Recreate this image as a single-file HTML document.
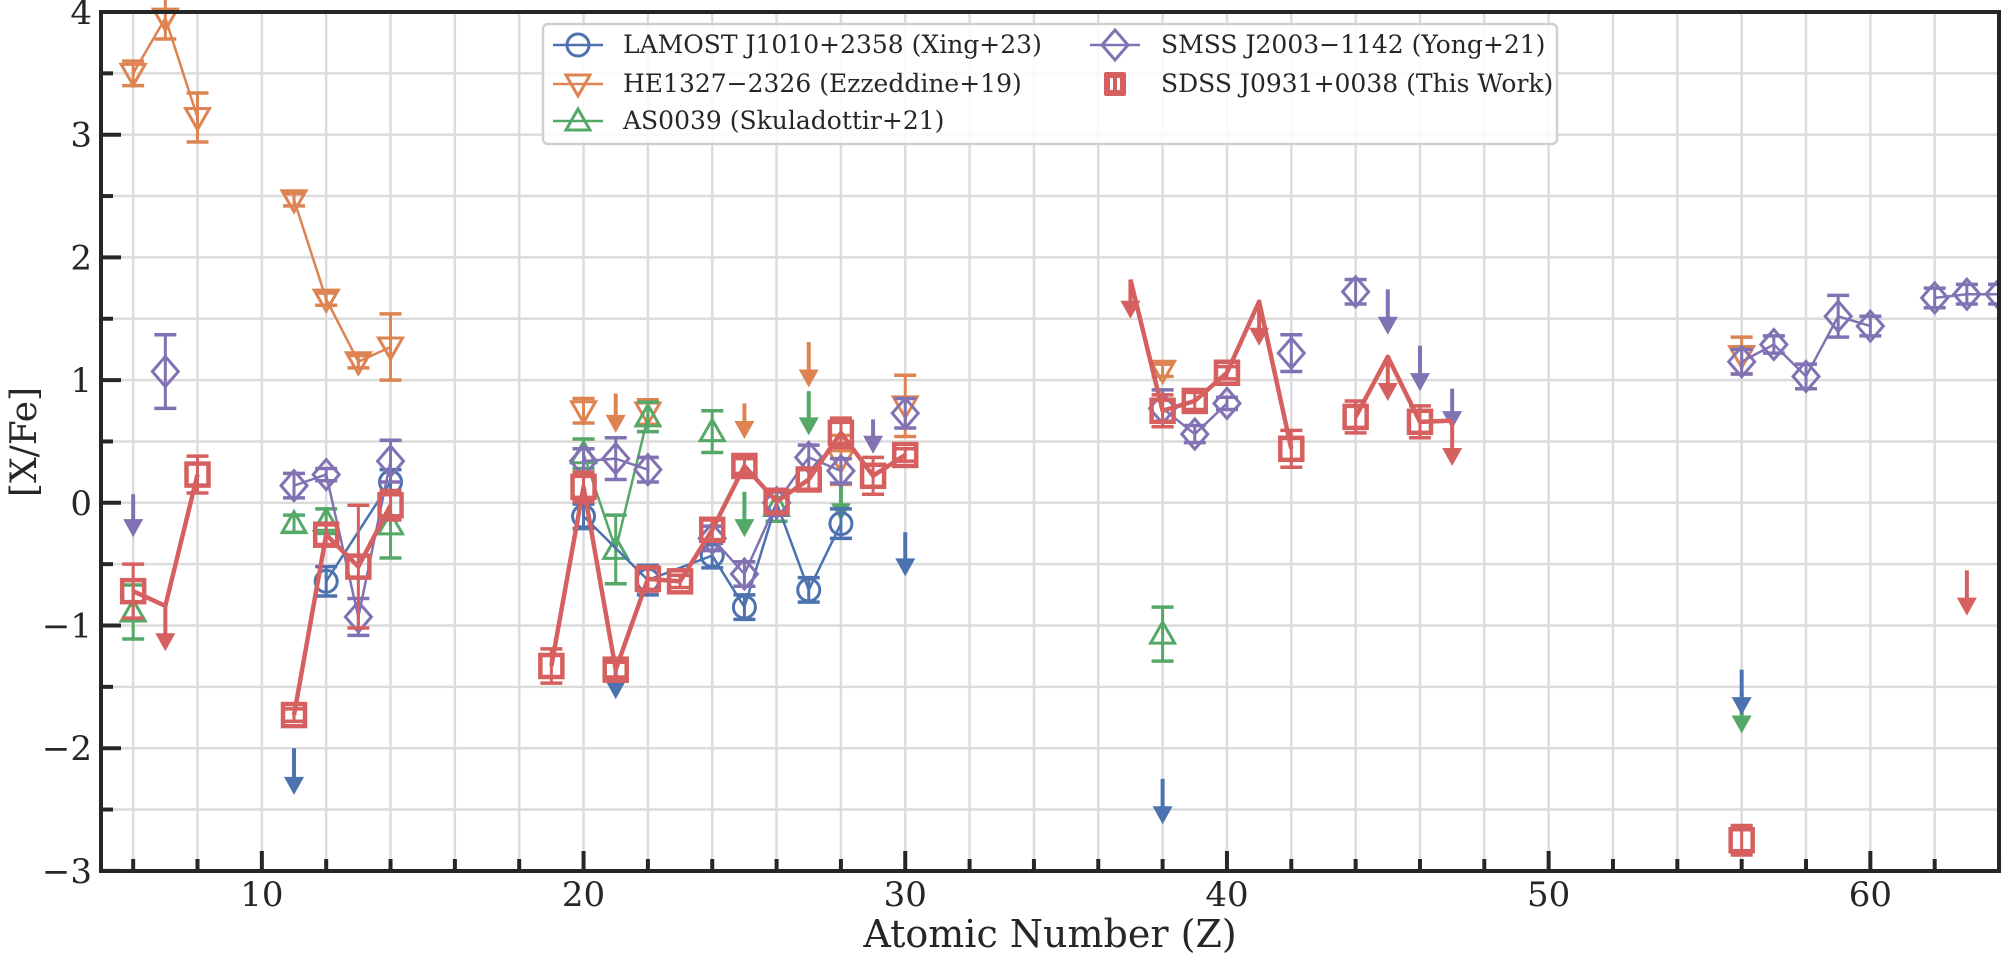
<!DOCTYPE html>
<html><head><meta charset="utf-8"><style>
html,body{margin:0;padding:0;background:#fff;}
svg{display:block;font-family:"DejaVu Serif","Liberation Serif",serif;}
</style></head><body>
<svg id="s" width="2002" height="954" viewBox="0 0 2002 954" xmlns="http://www.w3.org/2000/svg">
<rect width="2002" height="954" fill="#fff"/>
<g id="grid"></g>
<g id="data"></g>
<g id="axes"></g>
<g id="legend">
<rect x="543" y="24" width="1014" height="120" rx="5" fill="#fff" fill-opacity="0.85" stroke="#d0d0d0" stroke-width="2.5"/>
<g font-size="25" fill="#262626">
<text x="623" y="53">LAMOST J1010+2358 (Xing+23)</text>
<text x="623" y="92">HE1327−2326 (Ezzeddine+19)</text>
<text x="623" y="129">AS0039 (Skuladottir+21)</text>
<text x="1161" y="53">SMSS J2003−1142 (Yong+21)</text>
<text x="1161" y="92">SDSS J0931+0038 (This Work)</text>
</g>
</g>
<g fill="#262626">
<text x="1050" y="947" font-size="38" text-anchor="middle">Atomic Number (Z)</text>
<text transform="translate(36,442) rotate(-90)" font-size="36" text-anchor="middle">[X/Fe]</text>
</g>
<g id="ticklabels" fill="#262626" font-size="34"></g>
</svg>
<script>
const NS="http://www.w3.org/2000/svg";
const X=z=>101+(z-5)*32.17, Y=v=>12+(4-v)*122.7;
function el(p,t,a){const e=document.createElementNS(NS,t);for(const k in a)e.setAttribute(k,a[k]);p.appendChild(e);return e;}
const G=document.getElementById('grid'),D=document.getElementById('data'),A=document.getElementById('axes'),TL=document.getElementById('ticklabels'),LG=document.getElementById('legend');
for(let z=6;z<=64;z+=2)el(G,'line',{x1:X(z),x2:X(z),y1:12,y2:871,stroke:'#dcdcdc','stroke-width':2.5});
for(let v=-2.5;v<4;v+=0.5)el(G,'line',{x1:101,x2:1999,y1:Y(v),y2:Y(v),stroke:'#dcdcdc','stroke-width':2.5});
// axes
el(A,'rect',{x:101,y:12,width:1898,height:859,fill:'none',stroke:'#262626','stroke-width':4});
for(let v=-3;v<=4;v+=0.5){const maj=Number.isInteger(v);el(A,'line',{x1:101,x2:101+(maj?20:12),y1:Y(v),y2:Y(v),stroke:'#262626','stroke-width':4});
 if(maj){const t=el(TL,'text',{x:92,y:Y(v)+12,'text-anchor':'end'});t.textContent=(v<0?'−':'')+Math.abs(v);}}
for(let z=6;z<=64;z+=2){const maj=z%10==0;el(A,'line',{x1:X(z),x2:X(z),y1:871,y2:871-(maj?20:12),stroke:'#262626','stroke-width':4});
 if(maj){const t=el(TL,'text',{x:X(z),y:906,'text-anchor':'middle'});t.textContent=z;}}
const C={b:'#4c72b0',o:'#dd8452',g:'#55a868',r:'#d65f5f',p:'#8172b3'};
function marker(p,type,x,y,c,sw){
 const a={fill:'none',stroke:c,'stroke-width':sw};
 if(type=='o')el(p,'circle',Object.assign({cx:x,cy:y,r:11},a));
 else if(type=='v')el(p,'polygon',Object.assign({points:`${x-12},${y-9} ${x+12},${y-9} ${x},${y+12}`},a));
 else if(type=='^')el(p,'polygon',Object.assign({points:`${x-12},${y+9} ${x+12},${y+9} ${x},${y-12}`},a));
 else if(type=='d')el(p,'polygon',Object.assign({points:`${x-13},${y} ${x},${y-15} ${x+13},${y} ${x},${y+15}`},a));
 else if(type=='s')el(p,'rect',Object.assign({x:x-11,y:y-11,width:22,height:22},a));
}
function series(c,type,lw,msw,pts,groups){
 const g=el(D,'g',{});
 const map={};pts.forEach(p=>map[p[0]]=p);
 groups.forEach(gr=>{const d=gr.map((z,i)=>(i?'L':'M')+X(z)+','+Y(map[z][1])).join(' ');el(g,'path',{d:d,fill:'none',stroke:c,'stroke-width':lw,'stroke-linejoin':'round'});});
 pts.forEach(p=>{const [z,v,e,lim]=p;const x=X(z),y=Y(v);
  if(lim!==undefined){const ty=Y(lim);el(g,'line',{x1:x,x2:x,y1:y,y2:ty-14,stroke:c,'stroke-width':4});
   el(g,'polygon',{points:`${x-10},${ty-18} ${x+10},${ty-18} ${x},${ty}`,fill:c});}
  else{ if(e){const y1=Y(v+e),y2=Y(v-e);el(g,'line',{x1:x,x2:x,y1:y1,y2:y2,stroke:c,'stroke-width':3});
    el(g,'line',{x1:x-11,x2:x+11,y1:y1,y2:y1,stroke:c,'stroke-width':3.5});el(g,'line',{x1:x-11,x2:x+11,y1:y2,y2:y2,stroke:c,'stroke-width':3.5});}
   marker(g,type,x,y,c,msw);}
 });
}
// orange
series(C.o,'v',2.5,3,[[6,3.5,0.1],[7,3.95,0.17],[8,3.14,0.2],[11,2.47,0.05],[12,1.66,0.05],[13,1.15,0.05],[14,1.27,0.27],
 [20,0.75,0.1],[21,0.89,0,0.57],[22,0.74,0.1],[25,0.81,0,0.52],[27,1.31,0,0.94],[28,0.35,0.2],[30,0.79,0.25],[38,1.08,0.05],[56,1.2,0.15]],[[6,7,8],[11,12,13,14]]);
// green
series(C.g,'^',2.5,3,[[6,-0.89,0.22],[11,-0.17,0.07],[12,-0.15,0.1],[14,-0.18,0.27],[20,0.4,0.12],[21,-0.38,0.28],[22,0.7,0.12],[24,0.58,0.17],
 [25,0.09,0,-0.28],[26,-0.03,0.12],[27,0.91,0,0.55],[28,0.14,0,-0.15],[38,-1.07,0.22],[56,-1.55,0,-1.88]],[[20,21,22]]);
// blue
series(C.b,'o',2.5,3,[[11,-2.0,0,-2.38],[12,-0.64,0.12],[14,0.17,0.1],[20,-0.11,0.1],[21,-1.3,0,-1.6],[22,-0.63,0.12],[24,-0.43,0.1],
 [25,-0.85,0.1],[26,0.0,0.1],[27,-0.71,0.1],[28,-0.17,0.12],[30,-0.24,0,-0.6],[38,-2.25,0,-2.62],[56,-1.36,0,-1.73]],[[12,14],[20,22],[22,24,25,26,27,28]]);
// purple
series(C.p,'d',2.5,3,[[6,0.07,0,-0.28],[7,1.07,0.3],[11,0.14,0.1],[12,0.23,0.05],[13,-0.93,0.15],[14,0.34,0.17],[20,0.34,0.1],[21,0.36,0.17],[22,0.27,0.1],
 [24,-0.29,0.1],[25,-0.58,0.1],[26,0.0,0.1],[27,0.37,0.1],[28,0.26,0.1],[29,0.68,0,0.4],[30,0.73,0.12],[38,0.77,0.15],[39,0.56,0.07],[40,0.81,0.05],
 [42,1.22,0.15],[44,1.72,0.1],[45,1.74,0,1.37],[46,1.28,0,0.91],[47,0.93,0,0.6],[56,1.15,0.1],[57,1.29,0.07],[58,1.03,0.1],[59,1.52,0.17],[60,1.44,0.08],
 [62,1.67,0.08],[63,1.7,0.08],[64,1.7,0.08]],[[11,12,13,14],[20,21,22],[24,25,26,27,28],[38,39,40],[56,57,58,59,60],[62,63,64]]);
// red
series(C.r,'s',4.5,4.5,[[6,-0.72,0.22],[7,-0.84,0,-1.21],[8,0.23,0.15],[11,-1.73,0.05],[12,-0.26,0.08],[13,-0.52,0.5],[14,-0.02,0.12],
 [19,-1.33,0.14],[20,0.13,0.12],[21,-1.36,0.06],[22,-0.62,0.1],[23,-0.64,0.05],[24,-0.22,0.08],[25,0.3,0.06],[26,0.01,0.1],[27,0.19,0.08],
 [28,0.57,0.12],[29,0.22,0.15],[30,0.39,0.05],[37,1.82,0,1.5],[38,0.75,0.13],[39,0.83,0.07],[40,1.06,0.05],[41,1.64,0,1.28],[42,0.44,0.15],
 [44,0.7,0.13],[45,1.19,0,0.83],[46,0.66,0.13],[47,0.67,0,0.3],[56,-2.75,0.12],[63,-0.55,0,-0.92]],
 [[6,7,8],[11,12,13,14],[19,20,21,22,23,24,25,26,27,28,29,30],[37,38,39,40,41,42],[44,45,46,47]]);
// clip overflow cover
el(D,'rect',{x:2001,y:0,width:10,height:954,fill:'#fff'});
// legend markers
const lm=[[578,45,C.b,'o'],[578,84,C.o,'v'],[578,121,C.g,'^'],[1115,45,C.p,'d']];
lm.forEach(m=>{el(LG,'line',{x1:553,x2:603,y1:m[1],y2:m[1],stroke:m[2],'stroke-width':2.5,transform:`translate(${m[0]-578},0)`});marker(LG,m[3],m[0],m[1],m[2],3);});
el(LG,'rect',{x:1104,y:72,width:22,height:24,fill:C.r,rx:2});
el(LG,'rect',{x:1110,y:78,width:3,height:12,fill:'#fff'});el(LG,'rect',{x:1117,y:78,width:3,height:12,fill:'#fff'});
</script>
</body></html>
